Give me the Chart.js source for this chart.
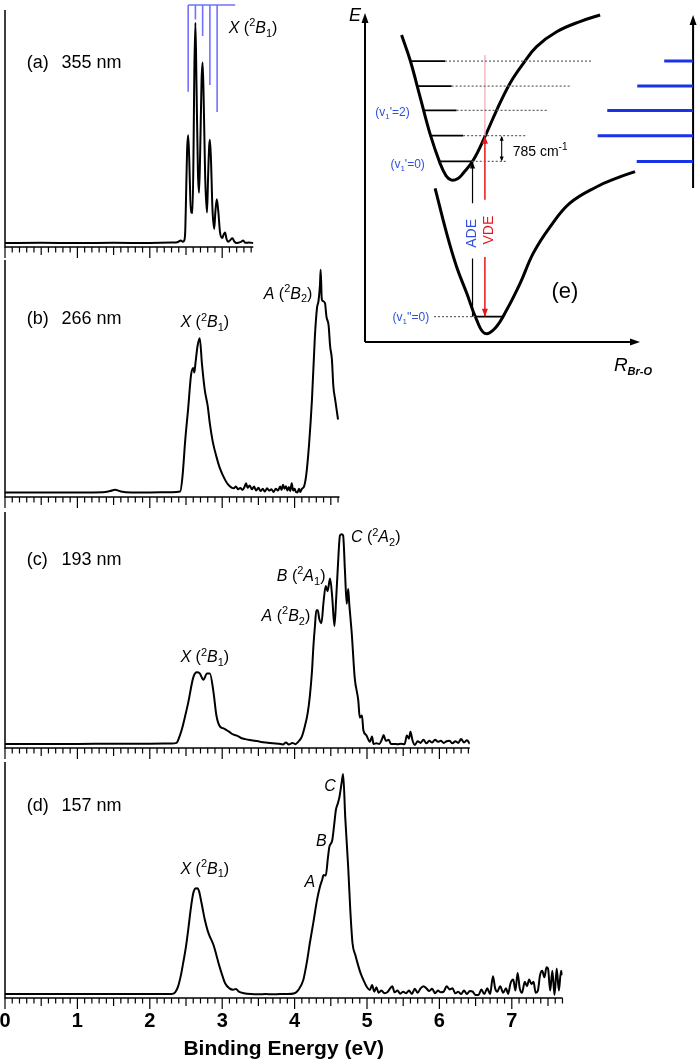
<!DOCTYPE html>
<html><head><meta charset="utf-8">
<script src="https://cdn.jsdelivr.net/npm/chart.js@4.4.1/dist/chart.umd.min.js"></script>
<style>
html,body{margin:0;padding:0;background:#fff;width:700px;height:1064px;overflow:hidden}
canvas{position:absolute;left:0;top:0}
</style></head><body>
<canvas id="ca" width="700" height="1064"></canvas>
<canvas id="cb" width="700" height="1064"></canvas>
<canvas id="cc" width="700" height="1064"></canvas>
<canvas id="cd" width="700" height="1064"></canvas>
<canvas id="ce" width="700" height="1064"></canvas>
<script>
// ---------------- DATA (binding energy eV, relative intensity) ----------------
const spec355 = [
[0,0.002],[0.5,0.003],[1.0,0.002],[1.5,0.003],[2.0,0.002],[2.3,0.004],[2.38,0.006],[2.43,0.014],[2.455,0.008],[2.475,0.012],
[2.49,0.06],[2.50,0.2],[2.515,0.42],[2.53,0.49],[2.545,0.38],[2.56,0.2],[2.575,0.14],[2.59,0.138],
[2.605,0.45],[2.615,0.78],[2.63,1.0],[2.645,0.72],[2.665,0.32],[2.68,0.23],
[2.695,0.4],[2.715,0.74],[2.73,0.82],[2.745,0.64],[2.765,0.3],[2.79,0.14],
[2.805,0.3],[2.82,0.44],[2.83,0.47],[2.845,0.38],[2.865,0.16],[2.89,0.066],
[2.905,0.14],[2.925,0.2],[2.945,0.15],[2.97,0.05],[3.0,0.025],
[3.02,0.04],[3.04,0.05],[3.06,0.02],[3.08,0.008],[3.11,0.015],[3.14,0.024],[3.17,0.008],[3.2,0.002],
[3.25,0.006],[3.29,0.013],[3.32,0.003],[3.37,0.004],[3.43,0.002]
];
const spec266 = [
[0,0.003],[0.5,0.003],[1.0,0.004],[1.35,0.005],[1.45,0.01],[1.52,0.016],[1.6,0.008],[1.75,0.004],[2.0,0.004],[2.3,0.005],
[2.42,0.008],[2.45,0.07],[2.49,0.24],[2.53,0.38],[2.57,0.53],[2.6,0.56],[2.615,0.54],[2.63,0.58],[2.66,0.66],[2.69,0.694],
[2.72,0.58],[2.76,0.46],[2.8,0.39],[2.83,0.31],[2.87,0.23],[2.92,0.164],[2.97,0.11],[3.04,0.06],[3.08,0.04],[3.13,0.025],
[3.16,0.022],[3.19,0.03],[3.22,0.018],[3.25,0.024],[3.28,0.015],[3.31,0.03],[3.33,0.045],[3.35,0.025],[3.38,0.035],[3.41,0.018],
[3.44,0.03],[3.47,0.012],[3.5,0.025],[3.53,0.01],[3.56,0.02],[3.59,0.008],[3.62,0.022],[3.65,0.012],[3.68,0.018],[3.71,0.006],
[3.74,0.02],[3.77,0.012],[3.8,0.03],[3.82,0.015],[3.84,0.038],[3.86,0.02],[3.88,0.032],[3.9,0.012],[3.92,0.028],[3.94,0.01],
[3.96,0.045],[3.98,0.012],[4.0,0.02],[4.02,0.005],[4.04,0.004],[4.06,0.02],[4.08,0.006],[4.10,0.02],
[4.13,0.03],[4.16,0.08],[4.2,0.22],[4.24,0.42],[4.28,0.70],[4.31,0.83],[4.33,0.86],[4.35,0.93],[4.36,1.0],[4.375,0.87],
[4.39,0.86],[4.42,0.85],[4.44,0.79],[4.47,0.75],[4.49,0.66],[4.515,0.6],[4.535,0.48],[4.56,0.42],[4.6,0.33]
];
const spec193 = [
[0,0.005],[0.5,0.005],[1.0,0.005],[1.5,0.006],[2.0,0.006],[2.3,0.007],[2.37,0.01],[2.41,0.04],[2.44,0.071],[2.49,0.14],
[2.53,0.2],[2.6,0.32],[2.65,0.345],[2.69,0.34],[2.74,0.31],[2.79,0.34],[2.83,0.34],[2.88,0.25],[2.92,0.14],[2.97,0.087],
[3.01,0.08],[3.06,0.071],[3.1,0.062],[3.15,0.05],[3.19,0.046],[3.23,0.04],[3.27,0.032],[3.32,0.028],[3.38,0.024],[3.45,0.02],
[3.52,0.016],[3.6,0.012],[3.7,0.008],[3.78,0.006],[3.84,0.003],[3.88,0.012],[3.92,0.002],[3.97,0.01],[4.01,0.004],[4.05,0.015],
[4.1,0.04],[4.14,0.087],[4.18,0.15],[4.21,0.23],[4.24,0.35],[4.26,0.47],[4.28,0.56],[4.30,0.64],[4.32,0.64],[4.34,0.6],
[4.37,0.578],[4.4,0.68],[4.43,0.755],[4.455,0.73],[4.49,0.79],[4.52,0.7],[4.55,0.565],[4.575,0.7],[4.595,0.83],[4.627,0.995],
[4.65,1.0],[4.67,0.995],[4.695,0.83],[4.72,0.67],[4.74,0.74],[4.755,0.67],[4.79,0.527],[4.83,0.32],[4.88,0.21],[4.9,0.13],
[4.93,0.14],[4.95,0.07],[4.99,0.047],[5.04,0.016],[5.07,0.04],[5.09,0.005],[5.13,0.008],[5.17,0.005],[5.21,0.03],[5.23,0.047],
[5.26,0.02],[5.3,0.025],[5.33,0.005],[5.38,0.005],[5.42,0.004],[5.47,0.006],[5.52,0.004],[5.55,0.045],[5.58,0.03],[5.6,0.063],
[5.63,0.02],[5.66,0.0],[5.7,0.018],[5.74,0.01],[5.78,0.025],[5.82,0.008],[5.86,0.02],[5.9,0.012],[5.94,0.025],[5.98,0.015],
[6.02,0.02],[6.06,0.01],[6.1,0.018],[6.14,0.02],[6.18,0.008],[6.22,0.018],[6.26,0.01],[6.3,0.028],[6.34,0.012],[6.38,0.022],[6.42,0.006]
];
const spec157 = [
[0,0.004],[0.5,0.004],[1.0,0.004],[1.5,0.004],[2.0,0.004],[2.3,0.004],[2.35,0.012],[2.39,0.038],[2.43,0.09],[2.46,0.143],
[2.5,0.22],[2.53,0.294],[2.57,0.4],[2.6,0.46],[2.63,0.482],[2.66,0.483],[2.68,0.47],[2.7,0.44],[2.73,0.39],[2.76,0.34],
[2.8,0.29],[2.83,0.264],[2.88,0.226],[2.92,0.18],[2.95,0.143],[3.0,0.09],[3.04,0.053],[3.1,0.03],[3.15,0.024],[3.19,0.027],
[3.23,0.015],[3.3,0.008],[3.4,0.004],[3.5,0.003],[3.6,0.004],[3.7,0.003],[3.8,0.004],[3.9,0.004],[4.0,0.008],[4.05,0.022],
[4.12,0.068],[4.17,0.15],[4.21,0.234],[4.26,0.33],[4.31,0.43],[4.35,0.49],[4.38,0.52],[4.40,0.543],[4.43,0.54],[4.46,0.62],
[4.48,0.67],[4.52,0.70],[4.55,0.78],[4.57,0.837],[4.6,0.87],[4.62,0.897],[4.65,0.96],[4.67,1.0],[4.7,0.8],[4.74,0.58],
[4.77,0.38],[4.8,0.234],[4.84,0.18],[4.87,0.143],[4.91,0.1],[4.95,0.068],[5.0,0.035],[5.04,0.023],[5.07,0.045],[5.1,0.015],
[5.13,0.035],[5.16,0.01],[5.2,0.02],[5.24,0.008],[5.28,0.012],[5.32,0.03],[5.35,0.04],[5.38,0.012],[5.42,0.02],[5.46,0.006],
[5.5,0.015],[5.54,0.008],[5.58,0.02],[5.62,0.005],[5.66,0.028],[5.7,0.01],[5.74,0.03],[5.78,0.04],[5.82,0.03],[5.86,0.018],
[5.9,0.028],[5.94,0.008],[5.98,0.02],[6.02,0.012],[6.06,0.015],[6.1,0.04],[6.14,0.025],[6.18,0.03],[6.22,0.008],[6.26,0.015],
[6.3,0.004],[6.34,0.02],[6.38,0.004],[6.42,0.018],[6.46,0.015],[6.5,0.0],[6.54,0.0],[6.58,0.025],[6.62,0.004],[6.66,0.03],
[6.7,0.005],[6.74,0.085],[6.77,0.03],[6.8,0.015],[6.84,0.04],[6.88,0.01],[6.92,0.03],[6.95,0.005],[6.98,0.05],[7.02,0.07],
[7.05,0.02],[7.08,0.1],[7.11,0.03],[7.14,0.01],[7.18,0.06],[7.21,0.04],[7.24,0.07],[7.27,0.05],[7.3,0.06],[7.33,0.01],
[7.36,0.02],[7.39,0.09],[7.42,0.11],[7.45,0.08],[7.48,0.125],[7.5,0.12],[7.53,0.02],[7.56,0.11],[7.59,0.0],[7.62,0.12],
[7.65,0.02],[7.68,0.11],[7.7,0.09]
];
// vibrational progression comb for 355 nm (stick energies eV, stick lower ends)
const combE = [2.53, 2.63, 2.73, 2.83, 2.93];
const combLow = [0.6875, 1.015, 0.94, 0.718, 0.596];
const combTop = 1.08, combEnd = 3.18;
const tickLabels = ['0','1','2','3','4','5','6','7'];
const axisTitle = 'Binding Energy (eV)';

// ---- panel (e) schematic potential curves (R, E in arbitrary units) ----
const upperR = [13.3,16.4,20.0,23.6,27.3,29.5,31.5,33.8,35.7,39.4,43.6,47.9,52.7,57.6,62.4,69.7,78.2,85.5];
const upperE = [93.3,85.7,74.6,63.4,54.3,50.5,49.2,49.7,51.3,55.3,62.4,70.5,78.6,84.7,89.8,94.3,97.4,99.4];
const lowerR = [25.5,29.7,33.3,37.0,40.6,43.6,47.3,51.5,56.4,61.2,67.3,74.5,84.3,91.5,98.2];
const lowerE = [46.7,33.0,22.9,14.8,6.7,2.6,4.2,9.7,17.8,27.0,35.0,42.2,47.2,49.8,51.8];
const levelE = [85.4,77.8,70.4,62.7,54.9];
const levelStart = [16.5,18.8,21.0,23.5,27.1];
const levelSolidEnd = [29.1,31.5,33.3,35.7,38.8];
const levelDotEnd = [82.4,75.2,66.1,58.8,51.5];
const anionLevel = {e:7.7, dotFrom:25.1, solidFrom:40.0, solidTo:50.1};
const stickLeft = [108.8,99.0,88.1,84.6,98.8];
const stickRight = 119.3;

// ---------------- helpers ----------------
const FONT = '"Liberation Sans", Arial, Helvetica, sans-serif';
const X0 = 5, PXE = 72.4;
function richParts(s){
  const out=[]; let i=0, it=false;
  while(i<s.length){
    const c=s[i];
    if(c==='*'){it=!it;i++;continue;}
    if((c==='^'||c==='_')&&s[i+1]==='{'){const j=s.indexOf('}',i);out.push({t:s.slice(i+2,j),it:it,pos:c==='^'?'sup':'sub'});i=j+1;continue;}
    let j=i+1; while(j<s.length && !'*^_'.includes(s[j])) j++;
    out.push({t:s.slice(i,j),it:it,pos:null}); i=j;
  }
  return out;
}
function drawRich(ctx, s, x, y, size, o){
  o=o||{};
  const parts=richParts(s), color=o.color||'#000', align=o.align||'left', wt=o.weight?o.weight+' ':'';
  const fnt=p=>(p.it?'italic ':'')+wt+(p.pos?Math.round(size*0.68):size)+'px '+FONT;
  let w=0; parts.forEach(p=>{ctx.font=fnt(p);p.w=ctx.measureText(p.t).width;w+=p.w;});
  let cx = align==='center'? x-w/2 : (align==='right'? x-w : x);
  ctx.fillStyle=color; ctx.textAlign='left'; ctx.textBaseline='alphabetic';
  const base=y+size*0.36;
  parts.forEach(p=>{ctx.font=fnt(p);const dy=p.pos==='sup'?-size*0.42:(p.pos==='sub'?size*0.24:0);ctx.fillText(p.t,cx,base+dy);cx+=p.w;});
}
function gapSegs(list){
  const d=[]; list.forEach(s=>{d.push({x:s[0],y:s[1]});d.push({x:s[2],y:s[3]});d.push({x:s[2],y:null});}); return d;
}

function spectrum(id, spec, c){
  const datasets=[{data:spec.map(p=>({x:p[0],y:p[1]})),borderColor:'#000',borderWidth:2,pointRadius:0,
    cubicInterpolationMode:'monotone',fill:false}];
  if(c.extra) datasets.push(...c.extra);
  return new Chart(document.getElementById(id),{
    type:'line', data:{datasets},
    options:{responsive:false,animation:false,events:[],
      layout:{padding:{left:X0,right:700-(X0+c.emax*PXE),top:c.top,bottom:1064-c.bottom}},
      plugins:{legend:{display:false},tooltip:{enabled:false}},
      scales:{x:{type:'linear',display:false,min:0,max:c.emax},y:{type:'linear',display:false,min:c.ymin,max:c.ymax}}},
    plugins:[{id:'decor',afterDraw(chart){
      const {ctx,chartArea:ca,scales:{x,y}}=chart;
      ctx.save();
      ctx.strokeStyle='#000'; ctx.lineWidth=1.5;
      const xa=x.getPixelForValue(0), xb=x.getPixelForValue(c.emax), yb=y.getPixelForValue(c.ymin);
      ctx.beginPath(); ctx.moveTo(xa,ca.top); ctx.lineTo(xa,yb); ctx.lineTo(xb,yb); ctx.stroke();
      ctx.lineWidth=1.2;
      const n=Math.round(c.emax*10);
      for(let k=0;k<=n;k++){const px=x.getPixelForValue(k/10);const len=k%10===0?11:(k%5===0?8:5.5);
        ctx.beginPath();ctx.moveTo(px,yb);ctx.lineTo(px,yb+len);ctx.stroke();}
      drawRich(ctx,c.tag,x.getPixelForValue(0.30),y.getPixelForValue(c.tagV),18);
      drawRich(ctx,c.wl,x.getPixelForValue(0.78),y.getPixelForValue(c.tagV),18);
      (c.labels||[]).forEach(l=>drawRich(ctx,l.s,x.getPixelForValue(l.e),y.getPixelForValue(l.v),16,{align:l.align||'center'}));
      if(c.axisText){
        ctx.fillStyle='#000'; ctx.textAlign='center'; ctx.textBaseline='middle';
        ctx.font='bold 20px '+FONT;
        tickLabels.forEach((t,i)=>ctx.fillText(t,x.getPixelForValue(i),yb+23));
        ctx.font='bold 21px '+FONT;
        ctx.fillText(axisTitle,(xa+xb)/2,yb+51);
      }
      ctx.restore();
    }}]
  });
}

// comb dataset
const combSegs=[[combE[0],combTop,combEnd,combTop]].concat(combE.map((e,i)=>[e,combTop,e,combLow[i]]));

spectrum('ca',spec355,{emax:3.43,top:10,bottom:247,ymin:-0.0159,ymax:1.0575,tag:'(a)',wl:'355 nm',tagV:0.822,
  labels:[{s:'*X* (^{2}*B*_{1})',e:3.09,v:0.98,align:'left'}],
  extra:[{data:gapSegs(combSegs),borderColor:'#7272ff',borderWidth:1.6,pointRadius:0,tension:0,clip:false,spanGaps:false}]});
spectrum('cb',spec266,{emax:4.62,top:260,bottom:497,ymin:-0.0166,ymax:1.0435,tag:'(b)',wl:'266 nm',tagV:0.785,
  labels:[{s:'*X* (^{2}*B*_{1})',e:2.76,v:0.768},{s:'*A* (^{2}*B*_{2})',e:3.91,v:0.897}]});
spectrum('cc',spec193,{emax:6.42,top:512,bottom:748,ymin:-0.0142,ymax:1.106,tag:'(c)',wl:'193 nm',tagV:0.883,
  labels:[{s:'*X* (^{2}*B*_{1})',e:2.76,v:0.419},{s:'*A* (^{2}*B*_{2})',e:3.88,v:0.617},
          {s:'*B* (^{2}*A*_{1})',e:4.09,v:0.807},{s:'*C* (^{2}*A*_{2})',e:5.12,v:0.989}]});
spectrum('cd',spec157,{emax:7.7,top:762,bottom:998,ymin:-0.0136,ymax:1.054,tag:'(d)',wl:'157 nm',tagV:0.86,axisText:true,
  labels:[{s:'*X* (^{2}*B*_{1})',e:2.76,v:0.575},{s:'*A*',e:4.21,v:0.513},{s:'*B*',e:4.37,v:0.70},{s:'*C*',e:4.49,v:0.95}]});

// ---------------- panel (e) ----------------
const line=(data,color,w,extra)=>Object.assign({data,borderColor:color,borderWidth:w,pointRadius:0,clip:false,fill:false,spanGaps:false},extra||{});
const eDatasets=[
  line(gapSegs(levelE.map((e,i)=>[levelSolidEnd[i],e,levelDotEnd[i],e]).concat([[anionLevel.dotFrom,anionLevel.e,anionLevel.solidFrom,anionLevel.e]])),'#666',1.2,{borderDash:[2,2],tension:0}),
  line(gapSegs([[43.6,62.7,43.6,87.2]]),'#f4b8c0',1.5,{tension:0}),
  line(upperR.map((r,i)=>({x:r,y:upperE[i]})),'#000',3,{tension:0.4}),
  line(lowerR.map((r,i)=>({x:r,y:lowerE[i]})),'#000',3,{tension:0.4}),
  line(gapSegs(levelE.map((e,i)=>[levelStart[i],e,levelSolidEnd[i],e]).concat([[anionLevel.solidFrom,anionLevel.e,anionLevel.solidTo,anionLevel.e]])),'#000',1.8,{tension:0}),
  line(gapSegs([[43.6,7.7,43.6,25.8],[43.6,43.2,43.6,62.0]]),'#e8141c',1.5,{tension:0}),
  line(gapSegs([[39.1,7.7,39.1,25.4],[39.1,42.2,39.1,54.4]]),'#000',1.2,{tension:0}),
  line(gapSegs([[49.7,55.3,49.7,62.3]]),'#000',1.1,{tension:0}),
  line(gapSegs(levelE.map((e,i)=>[stickLeft[i],e,stickRight,e])),'#1a33e6',3,{tension:0}),
  line(gapSegs([[0,0,0,98],[0,0,98.5,0],[stickRight,46.8,stickRight,97.5]]),'#000',2,{tension:0})
];
new Chart(document.getElementById('ce'),{
  type:'line', data:{datasets:eDatasets},
  options:{responsive:false,animation:false,events:[],
    layout:{padding:{left:365,right:5,top:13,bottom:722}},
    plugins:{legend:{display:false},tooltip:{enabled:false}},
    scales:{x:{type:'linear',display:false,min:0,max:120},y:{type:'linear',display:false,min:0,max:100}}},
  plugins:[{id:'edecor',afterDraw(chart){
    const {ctx,scales:{x,y}}=chart;
    const P=(r,e)=>[x.getPixelForValue(r),y.getPixelForValue(e)];
    ctx.save();
    function head(r,e,dir,len,w,color){
      const [px,py]=P(r,e); ctx.fillStyle=color; ctx.beginPath();
      if(dir==='up'){ctx.moveTo(px,py);ctx.lineTo(px-w/2,py+len);ctx.lineTo(px+w/2,py+len);}
      else if(dir==='down'){ctx.moveTo(px,py);ctx.lineTo(px-w/2,py-len);ctx.lineTo(px+w/2,py-len);}
      else {ctx.moveTo(px,py);ctx.lineTo(px-len,py-w/2);ctx.lineTo(px-len,py+w/2);}
      ctx.closePath(); ctx.fill();
    }
    head(0,100,'up',10,7,'#000');
    head(100,0,'right',10,7,'#000');
    head(stickRight,99.4,'up',10,7,'#000');
    head(43.6,62.7,'up',8,6,'#e8141c');
    head(43.6,7.7,'down',8,6,'#e8141c');
    head(39.1,54.9,'up',7,5,'#000');
    head(49.7,62.7,'up',5,4,'#000');
    head(49.7,54.9,'down',5,4,'#000');
    const blue='#3050d8';
    drawRich(ctx,"(v_{1}'=2)",...P(10,70.0),12,{align:'center',color:blue});
    drawRich(ctx,"(v_{1}'=0)",...P(15.5,54.3),12,{align:'center',color:blue});
    drawRich(ctx,"(v_{1}''=0)",...P(16.7,7.7),12,{align:'center',color:blue});
    drawRich(ctx,'785 cm^{-1}',...P(53.7,58.1),14);
    drawRich(ctx,'(e)',...P(72.7,15.8),22,{align:'center'});
    drawRich(ctx,'*E*',...P(-3.6,99.4),18,{align:'center'});
    // R_Br-O
    const [rx,ry]=P(90.5,-7);
    ctx.fillStyle='#000'; ctx.textAlign='left'; ctx.textBaseline='alphabetic';
    ctx.font='italic 19px '+FONT; ctx.fillText('R',rx,ry+6); const rw=ctx.measureText('R').width;
    ctx.font='italic bold 11px '+FONT; ctx.fillText('Br-O',rx+rw,ry+10);
    // rotated ADE / VDE
    function vtext(t,r,e,size,color){const [px,py]=P(r,e);ctx.save();ctx.translate(px,py);ctx.rotate(-Math.PI/2);
      ctx.font=size+'px '+FONT;ctx.fillStyle=color;ctx.textAlign='center';ctx.textBaseline='middle';ctx.fillText(t,0,0);ctx.restore();}
    vtext('ADE',38.8,33.0,14,blue);
    vtext('VDE',45.0,34.0,14,'#e8141c');
    ctx.restore();
  }}]
});
</script>
</body></html>
